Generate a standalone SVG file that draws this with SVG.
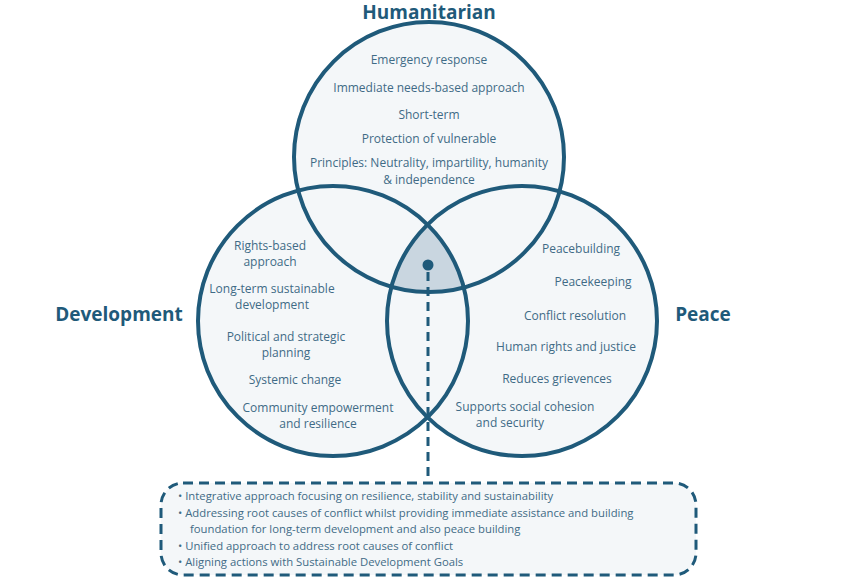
<svg xmlns="http://www.w3.org/2000/svg" width="841" height="578" viewBox="0 0 841 578">
<style>
.c{fill:none;stroke:#1f5a7a;stroke-width:4}
.t{font-family:"Open Sans","Liberation Sans",sans-serif;font-size:12px;fill:#3f6b86;text-anchor:middle}
.h{font-family:"Open Sans","Liberation Sans",sans-serif;font-size:19px;font-weight:bold;fill:#1f5a7a;text-anchor:middle}
.b{font-family:"Open Sans","Liberation Sans",sans-serif;font-size:11.3px;fill:#3f6b86}
</style>
<defs>
<clipPath id="cT"><circle cx="429" cy="157" r="135"/></clipPath>
<clipPath id="cL" clip-path="url(#cT)"><circle cx="333" cy="321" r="135"/></clipPath>
</defs>
<rect width="841" height="578" fill="#ffffff"/>
<g id="fills">
<circle cx="429" cy="157" r="135" fill="#f4f7f9"/>
<circle cx="333" cy="321" r="135" fill="#f4f7f9"/>
<circle cx="522" cy="321" r="135" fill="#f4f7f9"/>
<g clip-path="url(#cL)"><circle cx="522" cy="321" r="135" fill="#c9d6e0"/></g>
</g>
<g id="humanitarian">
<circle class="c" cx="429" cy="157" r="135"/>
<text class="h" x="429" y="19">Humanitarian</text>
<text class="t" x="429" y="64">Emergency response</text>
<text class="t" x="429" y="92">Immediate needs-based approach</text>
<text class="t" x="429" y="119">Short-term</text>
<text class="t" x="429" y="143">Protection of vulnerable</text>
<text class="t" x="429" y="167">Principles: Neutrality, impartility, humanity</text>
<text class="t" x="429" y="184">&amp; independence</text>
</g>
<g id="development">
<circle class="c" cx="333" cy="321" r="135"/>
<text class="h" x="119" y="321">Development</text>
<text class="t" x="270" y="250">Rights-based</text>
<text class="t" x="270" y="266">approach</text>
<text class="t" x="272" y="293">Long-term sustainable</text>
<text class="t" x="272" y="309">development</text>
<text class="t" x="286" y="341">Political and strategic</text>
<text class="t" x="286" y="357">planning</text>
<text class="t" x="295" y="384">Systemic change</text>
<text class="t" x="318" y="412">Community empowerment</text>
<text class="t" x="318" y="428">and resilience</text>
</g>
<g id="peace">
<circle class="c" cx="522" cy="321" r="135"/>
<text class="h" x="703" y="321">Peace</text>
<text class="t" x="581" y="253">Peacebuilding</text>
<text class="t" x="593" y="286">Peacekeeping</text>
<text class="t" x="575" y="320">Conflict resolution</text>
<text class="t" x="566" y="351">Human rights and justice</text>
<text class="t" x="557" y="383">Reduces grievences</text>
<text class="t" x="525" y="411">Supports social cohesion</text>
<text class="t" x="510" y="427">and security</text>
</g>
<g id="connectors">
<circle cx="428" cy="265" r="5.5" fill="#1f5a7a"/>
<line x1="428" y1="272" x2="428" y2="483" stroke="#1f5a7a" stroke-width="3" stroke-dasharray="9,6"/>
</g>
<g id="summary">
<rect x="161" y="483" width="535" height="92" rx="22" fill="#f4f7f9" stroke="#1f5a7a" stroke-width="3" stroke-dasharray="10,6"/>
<text class="b" x="178" y="500">•  Integrative approach focusing on resilience, stability and sustainability</text>
<text class="b" x="178" y="517">•  Addressing root causes of conflict whilst providing immediate assistance and building</text>
<text class="b" x="190" y="533">foundation for long-term development and also peace building</text>
<text class="b" x="178" y="550">•  Unified approach to address root causes of conflict</text>
<text class="b" x="178" y="566">•  Aligning actions with Sustainable Development Goals</text>
</g>
</svg>
